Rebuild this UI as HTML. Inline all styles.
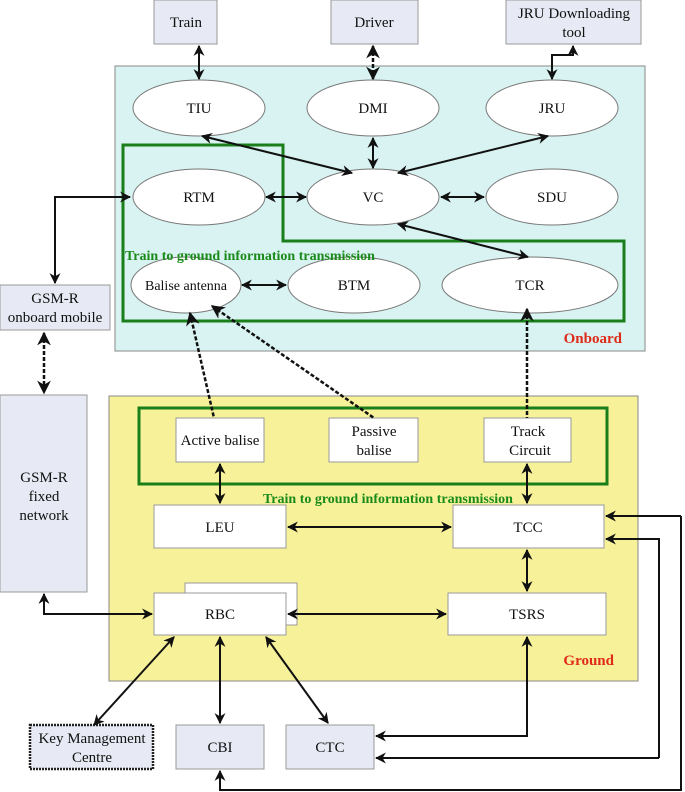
<!DOCTYPE html>
<html><head><meta charset="utf-8"><style>
body{margin:0;background:#fff;}
svg{display:block;font-family:"Liberation Serif",serif;}
</style></head><body>
<svg width="685" height="792" viewBox="0 0 685 792" xmlns="http://www.w3.org/2000/svg">
<defs>
<marker id="a" viewBox="0 0 10 10" refX="9" refY="5" markerWidth="5.5" markerHeight="5.5" orient="auto-start-reverse"><path d="M0,0 L10,5 L0,10 L3,5 z" fill="#111"/></marker>
</defs>
<rect x="115" y="66" width="530" height="285" fill="#d8f3f1" stroke="#888"/>
<rect x="109" y="396" width="529" height="285" fill="#f7f29a" stroke="#888"/>
<g fill="#e7eaf4" stroke="#999">
<rect x="154" y="0" width="63" height="44"/>
<rect x="331" y="0" width="87" height="44"/>
<rect x="506" y="0" width="135" height="44"/>
<rect x="0" y="285" width="110" height="45"/>
<rect x="0" y="395" width="87" height="197"/>
<rect x="176" y="725" width="88" height="44"/>
<rect x="286" y="725" width="88" height="44"/>
<rect x="30" y="725" width="123" height="44" stroke="#222" stroke-width="2.5" stroke-dasharray="2,1"/>
</g>
<g fill="#fff" stroke="#777">
<ellipse cx="199" cy="108" rx="66" ry="28"/>
<ellipse cx="373" cy="108" rx="66" ry="28"/>
<ellipse cx="552" cy="108" rx="66" ry="28"/>
<ellipse cx="199" cy="197" rx="66" ry="28"/>
<ellipse cx="373" cy="197" rx="66" ry="28"/>
<ellipse cx="552" cy="197" rx="66" ry="28"/>
<ellipse cx="186" cy="285" rx="55" ry="28"/>
<ellipse cx="354" cy="285" rx="66" ry="28"/>
<ellipse cx="530" cy="285" rx="88" ry="28"/>
</g>
<g fill="#fff" stroke="#999">
<rect x="176" y="418" width="88" height="44"/>
<rect x="329" y="418" width="89" height="44"/>
<rect x="484" y="418" width="87" height="44"/>
<rect x="154" y="505" width="132" height="43"/>
<rect x="453" y="505" width="151" height="43"/>
<rect x="185" y="583" width="112" height="42"/>
<rect x="154" y="593" width="132" height="42"/>
<rect x="448" y="593" width="158" height="42"/>
</g>
<polygon points="123,145 283,145 283,241 624,241 624,321 123,321" fill="none" stroke="#1a7f1a" stroke-width="3"/>
<rect x="139" y="408" width="468" height="76" fill="none" stroke="#1a7f1a" stroke-width="3"/>
<g stroke="#111" stroke-width="2" fill="none" marker-start="url(#a)" marker-end="url(#a)">
<line x1="199" y1="46" x2="199" y2="79"/>
<line x1="373" y1="46" x2="373" y2="79" stroke-dasharray="4,2" stroke-width="2.5"/>
<polyline points="573,46 573,55 552,55 552,79"/>
<line x1="202" y1="136" x2="352" y2="173"/>
<line x1="373" y1="138" x2="373" y2="168"/>
<line x1="548" y1="136" x2="398" y2="173"/>
<line x1="266" y1="197" x2="306" y2="197"/>
<line x1="441" y1="197" x2="484" y2="197"/>
<line x1="398" y1="224" x2="528" y2="257"/>
<line x1="242" y1="285" x2="286" y2="285"/>
<polyline points="130,197 55,197 55,283"/>
<line x1="44" y1="333" x2="44" y2="393" stroke-dasharray="4,2" stroke-width="2.5"/>
<line x1="190" y1="313" x2="214" y2="418" marker-end="none" stroke-dasharray="4,2" stroke-width="2.5"/>
<line x1="212" y1="306" x2="374" y2="418" marker-end="none" stroke-dasharray="4,2" stroke-width="2.5"/>
<line x1="527" y1="309" x2="527" y2="418" marker-end="none" stroke-dasharray="4,2" stroke-width="2.5"/>
<line x1="220" y1="464" x2="220" y2="503"/>
<line x1="527" y1="464" x2="527" y2="503"/>
<line x1="288" y1="527" x2="451" y2="527"/>
<line x1="527" y1="550" x2="527" y2="591"/>
<line x1="288" y1="614" x2="446" y2="614"/>
<polyline points="44,594 44,614 152,614"/>
<line x1="174" y1="637" x2="94" y2="725"/>
<line x1="220" y1="637" x2="220" y2="723"/>
<line x1="266" y1="637" x2="328" y2="723"/>
</g>
<g stroke="#111" stroke-width="2" fill="none" marker-end="url(#a)">
<polyline points="527,637 527,736 376,736" marker-start="url(#a)"/>
<polyline points="681,516 681,790 220,790 220,771"/>
<line x1="681" y1="516" x2="606" y2="516"/>
<polyline points="659,758 376,758"/>
<polyline points="659,758 659,539 606,539"/>
</g>
<g font-size="15" fill="#111" text-anchor="middle">
<text x="186" y="27">Train</text>
<text x="374" y="27">Driver</text>
<text x="574" y="18">JRU Downloading</text>
<text x="574" y="37">tool</text>
<text x="199" y="113">TIU</text><text x="373" y="113">DMI</text><text x="552" y="113">JRU</text>
<text x="199" y="202">RTM</text><text x="373" y="202">VC</text><text x="552" y="202">SDU</text>
<text x="186" y="290" font-size="14">Balise antenna</text><text x="354" y="290">BTM</text><text x="530" y="290">TCR</text>
<text x="55" y="303">GSM-R</text><text x="55" y="322">onboard mobile</text>
<text x="44" y="482">GSM-R</text><text x="44" y="501">fixed</text><text x="44" y="520">network</text>
<text x="220" y="445">Active balise</text>
<text x="374" y="436">Passive</text><text x="374" y="455">balise</text>
<text x="528" y="436">Track</text><text x="530" y="455">Circuit</text>
<text x="220" y="532">LEU</text><text x="528" y="532">TCC</text>
<text x="220" y="619">RBC</text><text x="527" y="619">TSRS</text>
<text x="92" y="743">Key Management</text><text x="92" y="762">Centre</text>
<text x="220" y="752">CBI</text><text x="330" y="752">CTC</text>
</g>
<g font-weight="bold" font-size="14" fill="#1a8a1a">
<text x="125" y="260">Train to ground information transmission</text>
<text x="263" y="503">Train to ground information transmission</text>
</g>
<g font-weight="bold" font-size="15" fill="#e02a1a" text-anchor="end">
<text x="622" y="343">Onboard</text>
<text x="614" y="665">Ground</text>
</g>
</svg>
</body></html>
